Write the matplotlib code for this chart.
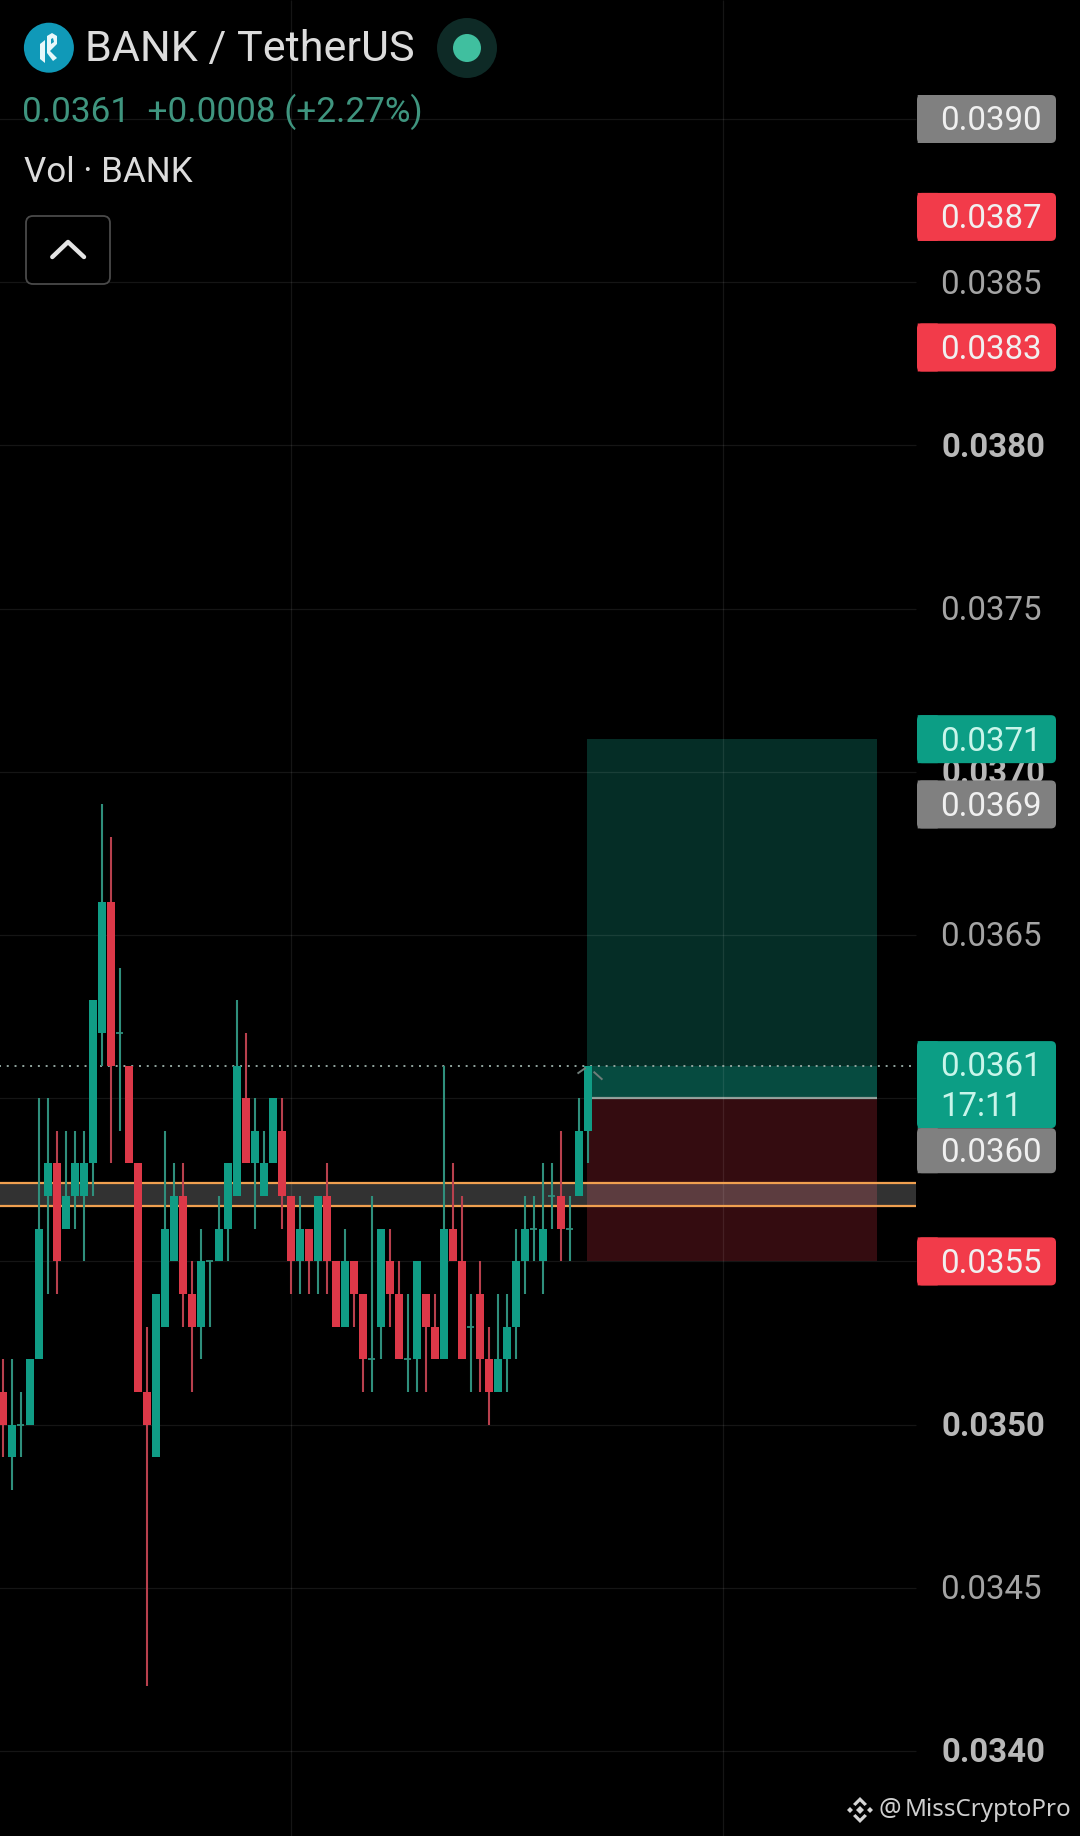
import matplotlib
matplotlib.use('Agg')
import matplotlib.pyplot as plt
from matplotlib.patches import Circle, FancyBboxPatch, Polygon, Rectangle

plt.rcParams['font.family'] = ['Roboto', 'DejaVu Sans']

# candles, oldest first
opens = [.0351, .0349, .0350, .0350, .0352, .0357, .0358, .0356, .0357, .0357, .0358,
         .0362, .0366, .0362, .0361, .0358, .0351, .0349, .0353, .0355, .0357, .0354,
         .0353, .0355, .0355, .0356, .0357, .0360, .0358, .0357, .0358, .0359, .0357,
         .0355, .0356, .0355, .0357, .0355, .0353, .0355, .0354, .0352, .0353, .0355,
         .0354, .0352, .0352, .0354, .0353, .0352, .0356, .0355, .0353, .0354, .0352,
         .0351, .0352, .0353, .0355, .0356, .0355, .0357, .0357, .0356, .0357, .0359]
highs = [.0352, .0352, .0351, .0352, .0360, .0360, .0359, .0359, .0359, .0359, .0363,
         .0369, .0368, .0364, .0361, .0358, .0353, .0354, .0359, .0358, .0358, .0355,
         .0356, .0355, .0357, .0358, .0363, .0362, .0360, .0359, .0360, .0360, .0357,
         .0357, .0356, .0357, .0358, .0355, .0356, .0355, .0354, .0357, .0356, .0356,
         .0355, .0354, .0355, .0354, .0354, .0361, .0358, .0357, .0354, .0355, .0353,
         .0354, .0354, .0356, .0357, .0357, .0358, .0358, .0359, .0357, .0360, .0361]
lows = [.0349, .0348, .0349, .0350, .0352, .0354, .0354, .0356, .0356, .0355, .0357,
        .0361, .0358, .0359, .0358, .0351, .0342, .0349, .0353, .0355, .0353, .0351,
        .0352, .0353, .0355, .0355, .0357, .0358, .0356, .0357, .0358, .0356, .0354,
        .0354, .0354, .0354, .0354, .0353, .0353, .0353, .0351, .0351, .0352, .0353,
        .0352, .0351, .0351, .0351, .0352, .0352, .0355, .0352, .0351, .0351, .0350,
        .0351, .0351, .0352, .0354, .0355, .0354, .0356, .0355, .0355, .0357, .0358]
closes = [.0350, .0350, .0350, .0352, .0356, .0358, .0355, .0357, .0358, .0358, .0363,
          .0366, .0361, .0362, .0358, .0351, .0350, .0354, .0356, .0357, .0354, .0353,
          .0355, .0355, .0356, .0358, .0361, .0358, .0359, .0358, .0360, .0357, .0355,
          .0356, .0355, .0357, .0355, .0353, .0355, .0354, .0352, .0352, .0356, .0354,
          .0352, .0352, .0355, .0353, .0352, .0356, .0355, .0352, .0353, .0352, .0351,
          .0352, .0353, .0355, .0356, .0356, .0356, .0357, .0356, .0356, .0359, .0361]

# price scale
tick_prices = [.0385, .0380, .0375, .0370, .0365, .0350, .0345, .0340]
bold_ticks = [.0380, .0370, .0350, .0340]
grid_prices = [.0390, .0385, .0380, .0375, .0370, .0365, .0360, .0355, .0350, .0345, .0340]
grid_bars = [32, 80]

last_price = .0361
band_low = .03567
band_high = .03574
target_price = .0371
entry_price = .0360
stop_price = .0355
position_start = 64.93
position_end = 97.1
right_edge = 101.5

# tags on the price scale: shown price, price where it sits, colour
tag_labels = ['0.0390', '0.0387', '0.0383', '0.0371', '0.0369', '0.0355']
tag_prices = [.0390, .0387, .0383, .0371, .0369, .0355]
tag_colors = ['#808080', '#f23b4a', '#f23b4a', '#0c9e85', '#808080', '#f23b4a']

green = '#109c85'
red = '#dc3848'
green_wick = '#2f8f7c'
red_wick = '#b8404d'
white_text = '#f0f0f0'
TEXT_DY = 2.5  # va='center' sits a bit high for digits
TEXT_X = 939.8

W, H = 1080, 1836
fig = plt.figure(figsize=(W / 100, H / 100), dpi=100, facecolor='black')
ax = fig.add_axes([0, 0, 1, 1], facecolor='black')
ax.set_xlim(-2.67 / 9, (W - 2.67) / 9)
ax.set_ylim(.0365 - (H - 935) / 326400, .0365 + 935 / 326400)
ax.axis('off')

px = fig.add_axes([0, 0, 1, 1], facecolor='none')
px.set_xlim(0, W)
px.set_ylim(H, 0)
px.axis('off')


def price_y(p):
    return px.transData.inverted().transform(ax.transData.transform((0, p)))[1]


# position tool
ax.add_patch(Rectangle((position_start, last_price), position_end - position_start,
                       target_price - last_price, color='#052d26', lw=0, zorder=1))
ax.add_patch(Rectangle((position_start, entry_price), position_end - position_start,
                       last_price - entry_price, color='#064b40', lw=0, zorder=1))
ax.add_patch(Rectangle((position_start, stop_price), position_end - position_start,
                       entry_price - stop_price, color='#340c10', lw=0, zorder=1))
ax.hlines(entry_price, position_start, position_end, color='#8c9c97', lw=1.6, zorder=2)

# grid
ax.hlines(grid_prices, -1, right_edge, color='#ffffff', alpha=.085, lw=.9, zorder=2)
ax.vlines(grid_bars, ax.get_ylim()[0], ax.get_ylim()[1], color='#ffffff', alpha=.085, lw=.9, zorder=2)

# zone between the orange lines
ax.add_patch(Rectangle((-1, band_low), right_edge + 1, band_high - band_low,
                       color='#ffffff', alpha=.2, lw=0, zorder=3))
ax.hlines([band_low, band_high], -1, right_edge, color='#f0a050', lw=1.6, zorder=3)

ax.hlines(last_price, -1, right_edge, color='#93a6a0', lw=1.4,
          linestyle=(0, (1, 3)), zorder=3)

# candles
for i in range(len(opens)):
    up = closes[i] >= opens[i]
    ax.vlines(i, lows[i], highs[i], color=green_wick if up else red_wick, lw=1.5,
              capstyle='butt', zorder=4)
    if opens[i] == closes[i]:
        ax.hlines(opens[i], i - .42, i + .42, color=green_wick, lw=1.3, zorder=4)
    else:
        ax.bar(i, abs(closes[i] - opens[i]), bottom=min(opens[i], closes[i]), width=.89,
               color=green if up else red, lw=0, zorder=5)

# little arrow round the last candle
px.plot([578.3, 585], [1073, 1068.3], color='#6f7d79', lw=1.4, zorder=6)
px.plot([594.3, 601.7], [1072.3, 1079], color='#6f7d79', lw=1.4, zorder=6)

# price scale labels, tags go on top of them
for p in tick_prices:
    bold = p in bold_ticks
    px.text(TEXT_X + (2 if bold else 0), price_y(p) + TEXT_DY, '%.4f' % p, fontsize=23.8, va='center',
            color='#b8b8b8' if bold else '#a4a4a4', weight='bold' if bold else 'normal',
            zorder=7)


def tag(ymid, height, color):
    px.add_patch(FancyBboxPatch((922, ymid - height / 2 + 5), 129, height - 10,
                                boxstyle='round,pad=5,rounding_size=5', fc=color, lw=0,
                                snap=False, zorder=8))
    px.add_patch(Rectangle((917.7, ymid - height / 2), 20, height, fc=color, lw=0,
                           snap=False, zorder=8))


for label, p, c in zip(tag_labels, tag_prices, tag_colors):
    ymid = price_y(p)
    tag(ymid, 48, c)
    px.text(TEXT_X, ymid + TEXT_DY, label, fontsize=23.8, va='center', zorder=9,
            color='#c9f5ea' if c == '#0c9e85' else white_text)

tag(1084.6, 87, '#0c9e85')
px.text(TEXT_X, 1065 + TEXT_DY, '0.0361', fontsize=23.8, va='center', color='#c9f5ea', zorder=9)
px.text(TEXT_X, 1104 + TEXT_DY, '17:11', fontsize=23.8, va='center', color='#c9f5ea', zorder=9)
tag(1150.7, 45, '#808080')
px.text(TEXT_X, 1150.7 + TEXT_DY, '0.0360', fontsize=23.8, va='center', color=white_text, zorder=9)

# header
px.add_patch(Circle((48.9, 47.7), 25, fc='#1099b8', lw=0, zorder=9))
px.add_patch(Polygon([(40, 44), (45, 40), (45, 63), (40, 59)], fc='#e8f8fa', lw=0, zorder=10))
px.add_patch(Polygon([(47, 36), (52, 33), (57, 36), (57, 44), (50, 51), (57, 58), (53, 61), (47, 53)],
                     fc='#e8f8fa', lw=0, zorder=10))
px.add_patch(Polygon([(51, 39), (53, 38), (54, 42), (51, 44)], fc='#1099b8', lw=0, zorder=11))
px.text(85, 49, 'BANK / TetherUS', fontsize=31.1, va='center', color='#dcdcdc', zorder=9)
px.add_patch(Circle((467, 48), 30, fc='#0e2a26', lw=0, zorder=9))
px.add_patch(Circle((467, 48), 14, fc='#40bf9f', lw=0, zorder=10))
px.text(22, 112, '0.0361  +0.0008 (+2.27%)', fontsize=25.3, va='center',
        color='#3f957f', zorder=9)
px.text(24, 173, 'Vol · BANK', fontsize=25.2, va='center', color='#dcdcdc', zorder=9)
px.add_patch(FancyBboxPatch((32, 222), 72, 56, boxstyle='round,pad=6,rounding_size=7',
                            fc='black', ec='#4a4a4a', lw=1.3, zorder=9))
px.plot([52.3, 68, 84], [257, 242, 257], color='#e4e4e4', lw=3.2, solid_capstyle='round',
        solid_joinstyle='round', zorder=10)

# watermark
cx, cy = 860, 1810
logo = '#d4d4d4'
px.add_patch(Polygon([(cx, cy - 4), (cx + 4, cy), (cx, cy + 4), (cx - 4, cy)], fc=logo, lw=0, zorder=9))
px.add_patch(Polygon([(cx - 13, cy), (cx - 10, cy - 3), (cx - 7, cy), (cx - 10, cy + 3)], fc=logo, lw=0, zorder=9))
px.add_patch(Polygon([(cx + 13, cy), (cx + 10, cy - 3), (cx + 7, cy), (cx + 10, cy + 3)], fc=logo, lw=0, zorder=9))
px.add_patch(Polygon([(cx, cy - 13), (cx + 7, cy - 6), (cx + 4.5, cy - 4), (cx, cy - 8.5), (cx - 4.5, cy - 4), (cx - 7, cy - 6)],
                     fc=logo, lw=0, zorder=9))
px.add_patch(Polygon([(cx, cy + 13), (cx + 7, cy + 6), (cx + 4.5, cy + 4), (cx, cy + 8.5), (cx - 4.5, cy + 4), (cx - 7, cy + 6)],
                     fc=logo, lw=0, zorder=9))
px.text(879, 1810, '@', fontsize=18, va='center', family=['Noto Sans', 'DejaVu Sans'], color='#cfcfcf', zorder=9)
px.text(905, 1810, 'MissCryptoPro', fontsize=17.4, va='center', family=['Noto Sans', 'DejaVu Sans'],
        color='#cfcfcf', zorder=9)

fig.savefig('out.png', dpi=100, facecolor='black')
